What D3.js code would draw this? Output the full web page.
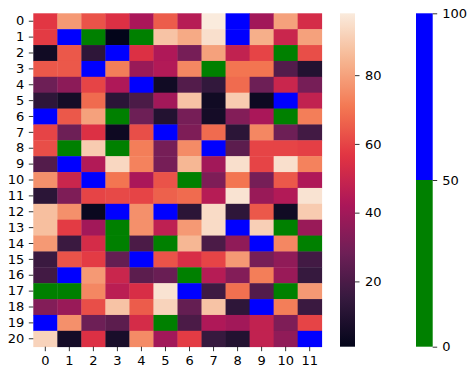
<!DOCTYPE html>
<html>
<head>
<meta charset="utf-8">
<script src="https://cdn.jsdelivr.net/npm/d3@7"></script>
<style>
	body { margin: 0; background: #fff; }
	svg { display: block; }
</style>
</head>
<body>
<script>
// row / column labels
const rows = d3.range(21);
const cols = d3.range(12);

// values of the base heatmap (null where the overlay covers the cell)
const values = [
	[57, 78, 63, 55, 42, 65, 45, 98, null, 40, 80, 53],
	[58, null, null, 1, null, 88, 82, 95, null, 83, 50, 80],
	[5, 64, 13, null, 55, 43, 30, 80, 48, 60, null, 62],
	[64, 64, null, 72, 38, 44, 74, null, 70, 70, 22, 10],
	[28, 35, 60, 43, null, 5, 22, 14, 68, 28, 50, 30],
	[13, 6, 68, 12, 20, 40, 88, 5, 90, 4, null, 48],
	[null, 64, 80, null, 28, 10, 30, 6, 33, 42, null, 72],
	[60, 28, 55, 4, 62, null, 32, 68, 12, 74, 28, 18],
	[62, null, 90, null, 72, 30, 75, null, 24, 60, 60, 59],
	[22, null, 44, 93, 73, 30, 85, 40, 95, 60, 95, 73],
	[76, 50, null, 70, 42, 63, null, 32, 70, 30, 64, 43],
	[12, 32, 60, 61, 60, 66, 68, 45, 96, 38, 44, 96],
	[87, 76, 3, null, 76, null, 12, 94, 13, 64, 5, 90],
	[87, 58, 40, null, 76, 47, 78, 94, null, 91, null, 38],
	[78, 16, 53, null, 20, null, 85, 20, 36, null, 74, null],
	[16, 63, 58, 26, null, 63, 54, 60, 78, 30, 36, 18],
	[18, null, 78, 50, 24, 27, null, 45, 33, 72, 38, 15],
	[null, null, 74, 46, 54, 96, null, 17, 69, 22, null, 78],
	[33, 38, 62, 88, 65, 92, 26, 88, 13, null, 72, 16],
	[null, 76, 28, 24, 53, null, 20, 43, 40, 48, 32, 60],
	[92, 6, 55, 7, 75, 40, 58, 15, 10, 48, 36, null]
];

// overlay layer: g = green (0-50), b = blue (50-100)
const overlay = [
	"........b...",
	".bg.g...b...",
	"...b......g.",
	"..b....g....",
	"....b.......",
	"..........b.",
	"b..g......g.",
	".....b......",
	".g.g...b....",
	".b..........",
	"..b...g.....",
	"............",
	"...b.b......",
	"...g....b.g.",
	"...g.g...b.g",
	"....b.......",
	".b....g.....",
	"gg....b...g.",
	".........b..",
	"b....g......",
	"...........b"
];

const overlayTicks = [0, 50, 100];
const colorTicks = [20, 40, 60, 80];

// seaborn "rocket" colormap
const rocketStops = ["#03051a", "#35193e", "#701f57", "#ad1759", "#e13342", "#f37651", "#f6b48f", "#faebdd"];
const rocket = d3.scaleLinear()
	.domain(d3.range(rocketStops.length).map((i) => i / (rocketStops.length - 1)))
	.range(rocketStops)
	.interpolate(d3.interpolateRgb);

const width = 474;
const height = 378;
const map = { left: 33.3, top: 13.3, right: 321.7, bottom: 346.7 };
const bar1 = { left: 340, right: 355 };
const bar2 = { left: 416, right: 432.7 };
const fontSize = 13;

const svg = d3.select("body")
	.append("svg")
	.attr("width", width)
	.attr("height", height)
	.attr("font-family", "'DejaVu Sans', sans-serif")
	.attr("font-size", fontSize);

const x = d3.scaleBand().domain(cols).range([map.left, map.right]);
const y = d3.scaleBand().domain(rows).range([map.top, map.bottom]);

const flat = values.flat().filter((v) => v !== null);
const extent = d3.extent(flat);
const color = d3.scaleSequential((t) => rocket(t)).domain(extent);
const overlayColor = { g: "#008000", b: "#0000ff" };

// cells
const cells = [];
rows.forEach((r) => cols.forEach((c) => {
	const o = overlay[r][c];
	cells.push({ r, c, fill: o !== "." ? overlayColor[o] : color(values[r][c]) });
}));

svg.append("g")
	.selectAll("rect")
	.data(cells)
	.join("rect")
	.attr("x", (d) => x(d.c))
	.attr("y", (d) => y(d.r))
	.attr("width", x.bandwidth() + 0.4)
	.attr("height", y.bandwidth() + 0.4)
	.attr("fill", (d) => d.fill);

// axes
const axisStyle = (g) => {
	g.select(".domain").remove();
	g.selectAll(".tick line").attr("stroke", "#000").attr("stroke-width", 0.8);
	g.selectAll(".tick text").attr("fill", "#000").attr("font-size", fontSize)
		.attr("font-family", "'DejaVu Sans', sans-serif");
};

svg.append("g")
	.attr("transform", `translate(${map.left},0)`)
	.call(d3.axisLeft(y).tickSize(4.5).tickPadding(4.5))
	.call(axisStyle);

svg.append("g")
	.attr("transform", `translate(0,${map.bottom})`)
	.call(d3.axisBottom(x).tickSize(4.5).tickPadding(5))
	.call(axisStyle);

// colorbar for the base layer
const cy = d3.scaleLinear().domain(extent).range([map.bottom, map.top]);
const grad = svg.append("defs").append("linearGradient")
	.attr("id", "rocket-grad")
	.attr("x1", 0).attr("y1", 1).attr("x2", 0).attr("y2", 0);
grad.selectAll("stop")
	.data(d3.range(0, 1.0001, 0.02))
	.join("stop")
	.attr("offset", (t) => t)
	.attr("stop-color", (t) => rocket(t));

svg.append("rect")
	.attr("x", bar1.left)
	.attr("y", map.top)
	.attr("width", bar1.right - bar1.left)
	.attr("height", map.bottom - map.top)
	.attr("fill", "url(#rocket-grad)");

svg.append("g")
	.attr("transform", `translate(${bar1.right},0)`)
	.call(d3.axisRight(cy).tickValues(colorTicks).tickSize(4.5).tickPadding(5.5))
	.call(axisStyle);

// colorbar for the overlay layer
const oy = d3.scaleLinear().domain([0, 100]).range([map.bottom, map.top]);
svg.append("g")
	.selectAll("rect")
	.data([{ lo: 0, hi: 50, fill: overlayColor.g }, { lo: 50, hi: 100, fill: overlayColor.b }])
	.join("rect")
	.attr("x", bar2.left)
	.attr("y", (d) => oy(d.hi))
	.attr("width", bar2.right - bar2.left)
	.attr("height", (d) => oy(d.lo) - oy(d.hi))
	.attr("fill", (d) => d.fill);

svg.append("g")
	.attr("transform", `translate(${bar2.right},0)`)
	.call(d3.axisRight(oy).tickValues(overlayTicks).tickSize(4.5).tickPadding(5))
	.call(axisStyle);
</script>
</body>
</html>
